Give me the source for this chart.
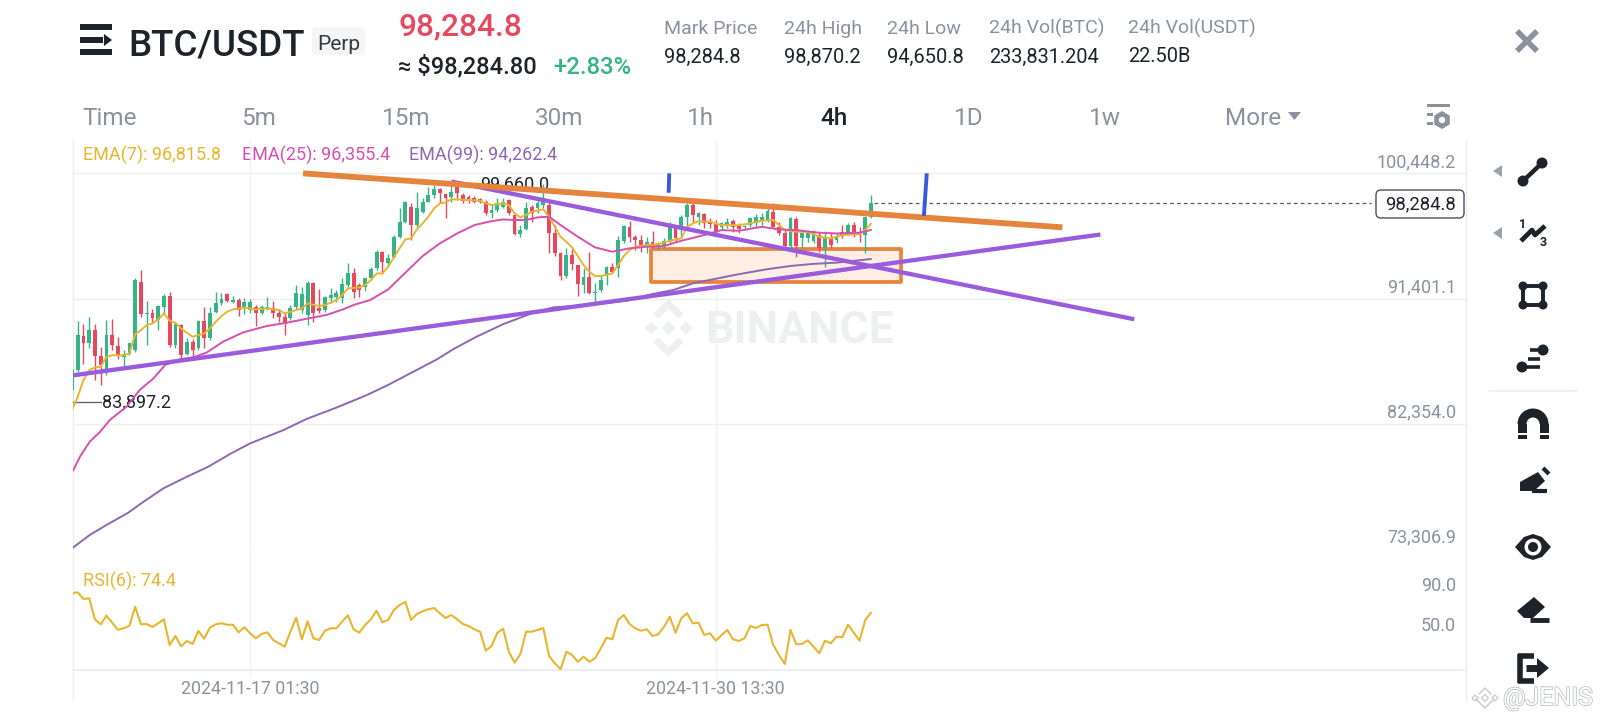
import numpy as np, pandas as pd, matplotlib
matplotlib.use('Agg')
import matplotlib.pyplot as plt, seaborn as sns
from matplotlib.patches import Rectangle, FancyBboxPatch, Circle, Wedge, Polygon, RegularPolygon
import matplotlib.patheffects as pe

# ---------- data (USDT thousands unless noted) ----------
opens = [84.78,86.23,88.71,88.16,89.12,87.24,86.23,88.76,87.97,87.19,
87.43,87.68,92.62,90.28,90.38,89.85,90.81,91.58,88.04,89.48,
87.43,88.28,87.80,89.80,88.52,90.45,91.05,91.72,91.17,91.29,
90.76,90.57,90.81,90.38,90.66,90.69,90.38,90.09,89.97,90.76,
90.57,90.21,92.50,90.69,90.57,91.41,91.53,91.41,92.38,93.27,
92.38,92.26,92.86,93.58,94.79,93.94,94.42,95.87,96.95,98.04,
96.71,97.68,98.40,98.88,99.29,98.95,98.71,99.44,98.88,98.76,
98.64,98.57,98.40,97.56,97.80,98.04,98.52,97.44,96.06,96.40,
98.04,97.92,98.16,98.16,96.11,94.67,93.03,94.54,93.82,92.38,
92.98,91.82,92.01,93.03,93.65,93.58,95.58,96.59,95.87,95.63,
95.20,95.51,95.20,95.27,95.58,96.59,96.54,97.32,98.16,97.27,
97.51,96.95,96.83,96.54,96.71,97.03,96.64,96.54,96.71,96.88,
97.03,97.08,97.68,96.59,96.16,95.20,97.12,95.75,95.75,95.58,
95.99,95.03,95.75,95.63,96.23,96.16,96.71,96.16,95.99,97.32]
closes = [86.23,88.76,88.21,89.12,87.24,86.59,88.76,88.04,87.32,87.43,
88.16,92.74,90.28,90.38,89.97,90.86,91.58,88.04,89.60,87.32,
88.28,87.68,89.80,88.52,90.38,91.05,91.34,91.22,91.29,90.57,
91.17,91.17,90.33,90.81,90.81,90.33,90.09,89.60,90.69,91.77,
91.72,92.50,90.33,90.52,91.53,91.65,91.82,92.45,93.27,91.89,
92.01,92.86,93.51,94.79,94.06,94.30,95.87,96.95,98.40,96.71,
97.92,98.40,98.88,99.29,99.00,98.64,99.12,99.00,98.47,98.47,
98.40,98.40,97.56,97.80,98.28,98.40,97.56,96.06,96.35,97.92,
97.56,98.28,98.52,96.11,94.67,93.03,94.54,93.89,92.45,92.98,
91.77,91.89,92.74,93.65,93.34,95.63,96.64,95.87,95.63,95.20,
95.51,95.27,95.39,95.58,96.59,95.75,97.32,98.16,97.44,97.60,
96.83,96.79,96.30,96.83,96.95,96.59,96.45,96.64,97.20,97.27,
97.32,97.75,96.59,96.11,95.20,97.20,95.20,96.11,96.11,96.11,
95.03,95.75,95.27,95.94,95.94,96.71,96.16,95.99,97.27,98.28]
highs = [86.95,89.80,89.60,90.09,89.60,87.92,89.85,89.89,88.59,87.72,
88.16,92.86,93.46,91.24,90.62,90.93,91.72,91.85,89.72,89.56,
88.52,88.45,89.85,90.81,90.81,91.89,91.77,91.82,91.58,91.41,
91.41,91.34,90.93,90.93,91.53,91.24,90.62,90.33,90.93,92.38,
92.26,92.69,92.62,92.06,91.58,92.13,92.01,92.86,93.94,93.63,
92.50,92.86,93.70,94.91,94.86,94.62,95.99,97.92,98.45,98.28,
99.12,98.64,99.44,99.61,99.36,99.00,99.85,99.53,99.00,98.88,
98.81,98.64,98.52,98.16,98.64,98.64,98.57,97.56,96.71,98.40,
98.16,98.52,99.66,98.40,96.71,94.79,95.03,94.95,93.82,93.58,
94.79,92.50,93.10,93.75,93.94,95.92,96.71,97.03,95.99,95.99,
95.87,96.28,95.51,95.75,96.95,96.71,97.44,98.28,98.28,97.68,
97.56,97.20,97.08,96.95,97.20,97.12,96.83,96.71,97.27,97.51,
97.56,97.92,98.28,96.95,96.35,97.32,97.32,96.23,96.23,96.35,
96.23,96.30,96.23,96.11,96.71,96.83,96.95,96.59,97.37,98.88]
lows = [83.90,86.11,86.71,87.80,85.51,85.15,85.87,87.68,87.07,86.47,
87.31,87.56,90.09,88.04,89.72,89.12,90.33,87.92,87.80,86.95,
87.31,87.19,87.68,87.80,88.40,90.38,90.93,91.17,91.10,90.13,
90.28,90.33,89.41,90.28,90.57,89.97,89.72,88.76,89.85,90.57,
90.33,89.48,89.72,90.33,90.45,91.05,91.17,91.05,92.26,91.41,
91.53,91.97,92.74,93.46,93.17,93.70,94.30,95.75,96.83,95.63,
96.59,97.56,98.40,98.64,98.33,97.20,98.40,98.52,98.28,98.33,
98.33,98.28,97.44,97.20,97.68,97.92,97.44,96.00,95.87,96.35,
96.95,97.56,97.92,94.67,94.47,92.74,92.86,93.46,91.58,91.77,
91.72,91.17,91.89,92.38,93.22,92.93,95.39,95.51,94.91,94.79,
94.67,95.03,94.91,95.03,95.39,95.51,95.75,96.59,96.95,96.71,
96.47,96.47,96.16,96.35,96.47,96.23,96.11,96.35,96.54,96.59,
96.71,96.95,96.47,95.99,95.03,95.03,94.42,95.15,95.51,95.39,
94.79,93.65,95.03,95.39,95.75,95.99,95.87,95.51,94.71,97.20]

ema7_idx = [0,1,2,3,4,5,6,7,8,9,10,11,12,13,14,15,16,17,18,19,20,21,22,23,24,25,26,27,28,30,32,34,36,37,38,40,41,43,44,46,47,48,50,51,52,53,54,55,56,57,58,59,60,61,62,63,64,65,66,67,69,71,72,73,75,76,77,78,79,80,82,83,84,85,86,87,88,89,90,91,92,94,95,96,97,98,100,102,104,106,107,108,109,111,113,114,116,118,120,122,123,124,126,128,130,132,134,137,138,139]
ema7 = [83.34,84.30,85.51,86.23,86.42,86.47,87.19,87.31,87.31,87.31,87.43,88.83,89.12,89.48,89.60,89.89,90.33,89.80,89.65,89.24,88.93,88.64,88.76,88.88,89.24,89.72,90.13,90.45,90.62,90.74,90.62,90.69,90.57,90.33,90.45,90.69,91.05,90.86,90.93,91.29,91.65,92.13,92.21,92.38,92.74,93.22,93.22,93.70,94.38,95.03,95.68,95.75,96.40,96.83,97.32,97.92,98.28,98.35,98.57,98.57,98.52,98.47,98.28,98.16,98.28,98.16,97.56,97.27,97.44,97.68,97.85,97.32,96.59,95.87,95.51,95.10,94.47,93.82,93.34,93.03,93.03,93.22,93.82,94.47,94.91,95.15,95.27,95.34,95.58,95.75,96.59,96.83,97.00,96.95,96.71,96.71,96.71,96.83,97.03,97.08,96.71,96.35,96.23,96.23,95.87,95.75,95.99,96.06,96.35,96.82]
ema25_idx = [0.2,1.4,3.1,4.9,6.6,9.5,11.8,14.2,16.2,18.8,21.1,23.4,26.3,29.8,33.9,37.4,40.3,44.3,47.2,49,51.9,55,58,61,64,67,70,73,75,77,79,81,83,85,88,91,94,97,100,103,106,110,113,116,120,123,126,130,133,137,139]
ema25 = [78.97,79.98,81.06,81.78,82.63,83.59,84.80,85.64,86.60,87.01,87.16,87.49,88.29,88.96,89.42,89.66,89.90,90.22,90.63,90.94,91.30,92.06,93.27,94.47,95.39,96.11,96.71,97.00,97.12,97.08,97.08,97.27,97.32,96.71,95.87,95.10,94.79,95.03,95.15,95.20,95.58,95.99,96.35,96.30,96.59,96.40,96.35,96.16,96.11,96.16,96.36]
ema99_idx = [0,3.1,6,9.8,11.9,15.9,20,23.7,27.5,31,36.8,40.8,46.1,51.3,55,59.4,63.5,66.4,70.4,75.1,80.3,83.8,87,92,96.5,101,104.6,108.1,111.6,116.2,120.9,125,129,133.1,139]
ema99 = [73.35,74.32,75.04,75.93,76.56,77.69,78.53,79.25,80.17,80.94,81.90,82.70,83.54,84.43,85.16,86.12,87.01,87.76,88.65,89.57,90.38,90.77,90.85,91.05,91.25,91.73,92.02,92.51,92.80,93.18,93.52,93.76,93.91,94.00,94.26]
rsi6 = [93.7,94.7,88,88.7,67.7,62.7,71.3,64.3,57.3,58.7,61.3,80.3,62.7,63,60,63.7,67.7,42,51,40.7,46,43,56,48.3,59.3,62.7,63.7,62.3,62.3,54.7,59.7,53.7,48.7,53,54.7,47,43.7,40.3,55.3,69.3,47.7,65.7,48.7,47,56.3,58.7,58.7,65.3,71.7,57.7,54.3,62,67.7,76.3,64.7,67,77,82,85,67,73,75.7,77.7,79,73.7,69,72,67.7,63,61,57.7,55.3,36.3,41,54.3,58.3,35.3,24.3,33,55.3,55.3,57,59,31,23.7,17.7,35.3,32,25.3,30.3,25.3,28.7,38.7,49.3,47.7,67,72,63,58.7,56.3,57.7,51,52.7,60.3,70.3,54.3,68.7,73.7,63.7,64.3,52,53.7,46.3,52,57,47.7,46,48.7,61,59,62,62.3,42,32,23,57,42.7,43,46.7,40.3,33.7,46.3,43.7,50.3,49.7,62.3,54.3,46.3,67,74.4]

price_ticks = [100448.2, 91401.1, 82354.0, 73306.9]
price_labels = ['100,448.2', '91,401.1', '82,354.0', '73,306.9']
rsi_ticks = [90.0, 50.0]
date_idx = [31, 112]
date_labels = ['2024-11-17 01:30', '2024-11-30 13:30']
last_price = 98284.8
stat_names = ['Mark Price', '24h High', '24h Low', '24h Vol(BTC)', '24h Vol(USDT)']
stat_values = ['98,284.8', '98,870.2', '94,650.8', '233,831.204', '22.50B']
intervals = ['Time', '5m', '15m', '30m', '1h', '4h', '1D', '1w', 'More']

# drawn trend lines: (index, price)
orange_line = ([40.2, 172.3], [100450, 96550])
support_line = ([0.27, 178.9], [85860, 96030])
down_line = ([66, 184.8], [99860, 89910])
box_idx = [100.8, 144.3]
box_price = [92570, 94950]
blue_a = ([103.9, 103.8], [100450, 99050])
blue_b = ([148.7, 148.2], [100450, 97370])

# ---------- styling ----------
sns.set_theme(style='white')
plt.rcParams['font.family'] = ['Roboto', 'DejaVu Sans']
GREEN, RED, GREY, INK = '#35b585', '#e8485d', '#8a929e', '#1e2329'
YEL, PINK, PURP = '#e9b52f', '#d94fae', '#8c67b3'
ORANGE, VIOLET = '#e5843c', '#9a5bdc'
GRID = '#eceef1'

W, H = 1600, 720
fig = plt.figure(figsize=(16, 7.2), dpi=100, facecolor='white')
def axpx(l, t, r, b, z):
    return fig.add_axes([l/W, 1-b/H, (r-l)/W, (b-t)/H], zorder=z)

ui = axpx(0, 0, W, H, 0)
ui.set_xlim(0, W); ui.set_ylim(H, 0); ui.axis('off')
ax = axpx(73, 140, 1466, 549, 2)
rs = axpx(73, 549, 1466, 670, 2)
for a in (ax, rs):
    a.patch.set_alpha(0)
    sns.despine(ax=a, left=True, bottom=True)
    a.set_xlim(0.186, 242.5)
    a.tick_params(length=0)
ax.set_ylim(73306.9, 102860)
rs.set_ylim(17, 138)
ax.set_xticks([]); ax.set_yticks([]); rs.set_yticks([])

# ---------- candles ----------
df = pd.DataFrame({'o': opens, 'c': closes, 'h': highs, 'l': lows}) * 1000
df['i'] = np.arange(len(df))
df['color'] = np.where(df.c >= df.o, GREEN, RED)
ax.vlines(df.i, df.l, df.h, colors=df.color, lw=1.0, zorder=3)
ax.bar(df.i, (df.c - df.o).abs().clip(lower=40), bottom=df[['o', 'c']].min(axis=1),
       width=0.66, color=df.color, linewidth=0, zorder=4)

# EMAs
for xs, ys, col in ((ema7_idx, ema7, YEL), (ema25_idx, ema25, PINK), (ema99_idx, ema99, PURP)):
    sns.lineplot(x=xs, y=np.array(ys)*1000, ax=ax, color=col, lw=1.4, errorbar=None, zorder=5, legend=False)
ax.set_xlabel(''); ax.set_ylabel('')

# grid
for p, lab in zip(price_ticks, price_labels):
    ax.axhline(p, color=GRID, lw=1, zorder=1)
    ax.annotate(lab, xy=(1456, p), xycoords=('figure pixels', 'data'), xytext=(0, 11.5),
                textcoords='offset pixels', ha='right', va='center', fontsize=13, color=GREY)
for p in rsi_ticks:
    rs.annotate(f'{p:.1f}', xy=(1456, p), xycoords=('figure pixels', 'data'), xytext=(0, 11),
                textcoords='offset pixels', ha='right', va='center', fontsize=13, color=GREY)
for i in date_idx:
    ax.axvline(i, color='#f1f2f4', lw=1, zorder=1)
    rs.axvline(i, color='#f1f2f4', lw=1, zorder=1)
rs.set_xticks(date_idx, date_labels, fontsize=12.8, color=GREY)
rs.tick_params(axis='x', pad=7.5)

# drawings
bx, bw = box_idx[0], box_idx[1]-box_idx[0]
by, bh = box_price[0], box_price[1]-box_price[0]
ax.add_patch(Rectangle((bx, by), bw, bh, facecolor='#fdeee4', edgecolor='none', zorder=2))
ax.add_patch(Rectangle((bx, by), bw, bh, facecolor='none', edgecolor=ORANGE, lw=2.7, joinstyle='round', zorder=2.5))
ax.plot(*support_line, color=VIOLET, lw=3.1, zorder=7, solid_capstyle='butt')
ax.plot(*down_line, color=VIOLET, lw=3.1, zorder=7, solid_capstyle='butt')
ax.plot(*orange_line, color=ORANGE, lw=4.2, zorder=8, solid_capstyle='butt')
ax.plot(*blue_a, color='#3a5bd9', lw=2.8, zorder=8, solid_capstyle='butt')
ax.plot(*blue_b, color='#3a5bd9', lw=2.8, zorder=8, solid_capstyle='butt')
ax.plot([139.6, 226.0], [last_price, last_price], color='#555b63', lw=.9, ls=(0, (3, 2.5)), zorder=3)

# extreme price marks
ax.text(71.0, 99660, '99,660.0', fontsize=13, color=INK, va='center', ha='left', zorder=2)
ax.plot([0.2, 5], [83897.2, 83897.2], color='#555b63', lw=.9, zorder=3)
ax.text(5.2, 83897.2, '83,897.2', fontsize=13, color=INK, va='center', ha='left', zorder=3)

# RSI
sns.lineplot(x=np.arange(len(rsi6)), y=rsi6, ax=rs, color=YEL, lw=1.5, errorbar=None, legend=False)
rs.set_xlabel(''); rs.set_ylabel('')
rs.set_xlim(0.186, 242.5)

# ---------- page chrome ----------
ui.plot([73, 73], [140, 699], color=GRID, lw=1)
ui.plot([1466, 1466], [140, 702], color=GRID, lw=1)
ui.plot([73, 1466], [670, 670], color=GRID, lw=1.4)
for i in date_idx:
    x = 71.93 + 5.747*i
    ui.plot([x, x], [670, 677], color='#f1f2f4', lw=1)
ui.plot([1489, 1577], [391, 391], color=GRID, lw=1.2)

def T(x, y, s, size, color=INK, weight='normal', ha='left', **kw):
    return ui.text(x, y, s, fontsize=size, color=color, fontweight=weight, ha=ha, va='center', **kw)

# logo + title
for (x0, x1, y0, y1) in ((80, 112, 24, 30), (80, 103, 37, 43), (80, 112, 49, 55)):
    ui.add_patch(Rectangle((x0, y0), x1-x0, y1-y0, color=INK, lw=0))
ui.add_patch(Polygon([[104, 34], [112, 40], [104, 46]], color=INK, lw=0))
T(128, 46, 'BTC/USDT', 26.5, weight='medium')
ui.add_patch(FancyBboxPatch((312, 27), 53, 28, boxstyle='round,pad=0,rounding_size=4', fc='#f5f5f5', ec='none'))
T(339, 44, 'Perp', 15, ha='center', color='#333a42')
T(398, 27, '98,284.8', 22.8, color=RED, weight='medium')
T(398, 67, '≈ $98,284.80', 17, weight='medium')
T(553, 67, '+2.83%', 17.2, color=GREEN, weight='medium')
for x, n, v in zip((664, 784, 887, 989, 1128), stat_names, stat_values):
    T(x, 28.5, n, 14, color=GREY)
    T(x, 57, v, 14.4)
ui.plot([1517, 1537], [31, 51], color=GREY, lw=4, solid_capstyle='butt')
ui.plot([1517, 1537], [51, 31], color=GREY, lw=4, solid_capstyle='butt')

for x, s in zip((82, 241, 382, 535, 687, 820, 954, 1089, 1225), intervals):
    if s == '4h':
        T(x, 118.5, s, 17.5, color=INK, weight='medium')
    else:
        T(x, 118.5, s, 17.5, color=GREY)
ui.add_patch(Polygon([[1288, 112], [1301, 112], [1294.5, 120]], color=GREY, lw=0))
# settings icon
ui.add_patch(Rectangle((1427, 104), 23, 3, color=GREY, lw=0))
ui.add_patch(Rectangle((1427, 113), 6, 3, color=GREY, lw=0))
ui.add_patch(Rectangle((1427, 122), 6, 3, color=GREY, lw=0))
ui.add_patch(RegularPolygon((1442, 120), 6, radius=9, color=GREY, lw=0))
ui.add_patch(Circle((1442, 120), 3.2, color='white', lw=0))

T(83, 155, 'EMA(7): 96,815.8', 13, color=YEL)
T(242, 155, 'EMA(25): 96,355.4', 13, color=PINK)
T(409, 155, 'EMA(99): 94,262.4', 13, color=PURP)
T(83, 581, 'RSI(6): 74.4', 13, color=YEL)

# last price pill
ui.add_patch(FancyBboxPatch((1376, 190), 88, 28, boxstyle='round,pad=0,rounding_size=5', fc='white', ec='#4a4f57', lw=1))
T(1420, 204, '98,284.8', 13.3, ha='center')

# watermark
wm = '#eef0f0'
T(705, 331, 'BINANCE', 32, color=wm, weight='bold')
ui.plot([656, 668.5, 681], [316, 304, 316], color=wm, lw=5, solid_joinstyle='miter', solid_capstyle='butt')
ui.plot([656, 668.5, 681], [340, 352, 340], color=wm, lw=5, solid_joinstyle='miter', solid_capstyle='butt')
for cxw, r in ((651, 6.5), (668.5, 7), (686, 6.5)):
    ui.add_patch(Polygon([[cxw-r, 328], [cxw, 328-r], [cxw+r, 328], [cxw, 328+r]], color=wm, lw=0))

# toolbar icons
cx = 1533
def dot(x, y, r=5.5):
    ui.add_patch(Circle((x, y), r, color=INK, lw=0))
def seg(xs, ys, lw=3.2):
    ui.plot(xs, ys, color=INK, lw=lw, solid_capstyle='butt')
for y in (171, 233):
    ui.add_patch(Polygon([[1502, y-6], [1502, y+6], [1493, y]], color='#9aa1ab', lw=0))
seg([1523, 1542], [181, 163]); dot(1523, 181); dot(1542, 163)
seg([1521, 1532, 1535, 1545], [241, 230, 235, 226], 3.4)
T(1523, 224, '1', 9, weight='bold', ha='center'); T(1543, 243, '3', 9, weight='bold', ha='center')
ui.add_patch(Rectangle((1523, 286), 20, 19, fc='none', ec=INK, lw=2.8))
for p in ((1523, 286), (1543, 286), (1523, 305), (1543, 305)):
    dot(*p, 4.5)
seg([1530, 1543], [350, 350], 2.6); seg([1528, 1540], [359, 359], 2.6); seg([1522, 1540], [367, 367], 2.6)
dot(1543, 350); dot(1522, 367)
ui.add_patch(Wedge((1533, 424), 15.5, 180, 360, width=9, color=INK, lw=0))
ui.add_patch(Rectangle((1517.5, 424), 9, 9, color=INK, lw=0)); ui.add_patch(Rectangle((1539.5, 424), 9, 9, color=INK, lw=0))
ui.add_patch(Rectangle((1517.5, 435), 9, 4, color=INK, lw=0)); ui.add_patch(Rectangle((1539.5, 435), 9, 4, color=INK, lw=0))
ui.add_patch(Polygon([[1520, 491], [1520, 482], [1538, 472], [1545, 481], [1534, 491]], color=INK, lw=0))
seg([1532, 1547], [491, 491], 3); seg([1543, 1549], [468, 474], 3)
ui.add_patch(Polygon([[1515, 547], [1524, 537], [1533, 534], [1542, 537], [1551, 547], [1542, 557], [1533, 560], [1524, 557]], color=INK, lw=0))
ui.add_patch(Circle((cx, 547), 8.5, color='white', lw=0)); ui.add_patch(Circle((cx, 547), 5, color=INK, lw=0))
ui.add_patch(Polygon([[1534, 597], [1545, 607], [1533, 618], [1524, 618], [1517, 611]], color=INK, lw=0))
seg([1530, 1549], [620, 620], 3.5)
seg([1520, 1520], [654, 683], 4); seg([1518, 1534], [656, 656], 4); seg([1518, 1534], [681, 681], 4)
seg([1526, 1540], [668, 668], 5)
ui.add_patch(Polygon([[1537, 658], [1549, 668], [1537, 678]], color=INK, lw=0))

# credit
ui.text(1503, 698, '@JENIS', fontsize=18, color='white', ha='left', va='center',
        path_effects=[pe.withStroke(linewidth=1.1, foreground='#b9bcc0')])
cr = '#c8cbce'
ui.plot([1476, 1485, 1494], [699, 708, 699], color=cr, lw=1)
ui.plot([1479, 1485, 1491], [694, 688, 694], color=cr, lw=1)
for cxw, r in ((1475, 3), (1485, 3.5), (1495, 3)):
    ui.add_patch(Polygon([[cxw-r, 698], [cxw, 698-r], [cxw+r, 698], [cxw, 698+r]], fc='none', ec=cr, lw=.9))

fig.savefig('out.png', dpi=100)
